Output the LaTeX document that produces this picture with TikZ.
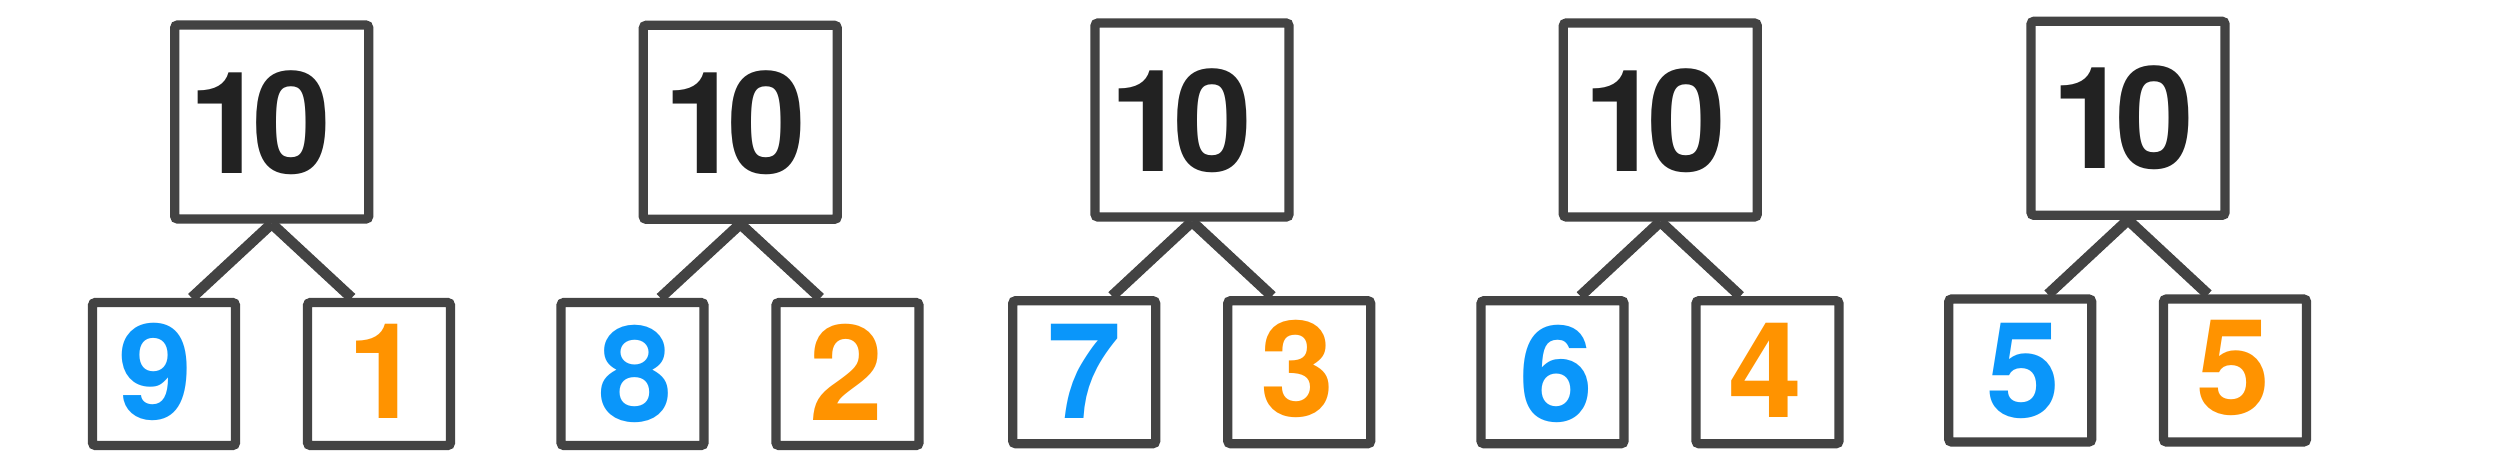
\documentclass[tikz,border=0pt]{standalone}
\usepackage{fontspec}
\setmainfont{TeX Gyre Heros}
\usetikzlibrary{calc,backgrounds}
\definecolor{edge}{HTML}{434343}
\definecolor{ink}{HTML}{222222}
\definecolor{bluedig}{HTML}{0A96FA}
\definecolor{orangedig}{HTML}{FF9300}
\tikzset{
  topbox/.style={draw=edge, line width=4.65pt, rounded corners=1.5pt, fill=white, minimum width=97pt, minimum height=97pt, inner sep=0pt},
  kidbox/.style={draw=edge, line width=4.65pt, rounded corners=1.5pt, fill=white, minimum width=71.5pt, minimum height=71.5pt, inner sep=0pt},
  toptext/.style={anchor=base, inner sep=0pt, text=ink, font=\fontsize{71pt}{71pt}\selectfont\bfseries},
  bluetext/.style={anchor=base, inner sep=0pt, text=bluedig, font=\fontsize{66.5pt}{66.5pt}\selectfont\bfseries},
  orangetext/.style={anchor=base, inner sep=0pt, text=orangedig, font=\fontsize{66.5pt}{66.5pt}\selectfont\bfseries},
  conn/.style={draw=edge, line width=5.3pt}
}
\begin{document}
\begin{tikzpicture}[x=0.5pt,y=-0.5pt]
% group 1
\node[topbox] (t1) at (271.7,122) {};
\node[kidbox] (l1) at (164,374) {};
\node[kidbox] (r1) at (379,374) {};
% group 2
\node[topbox] (t2) at (740.3,122.3) {};
\node[kidbox] (l2) at (632.5,374) {};
\node[kidbox] (r2) at (847.5,374) {};
% group 3
\node[topbox] (t3) at (1192,120) {};
\node[kidbox] (l3) at (1084.2,372.2) {};
\node[kidbox] (r3) at (1299.2,372.2) {};
% group 4
\node[topbox] (t4) at (1660.3,120) {};
\node[kidbox] (l4) at (1552.5,372.2) {};
\node[kidbox] (r4) at (1767.5,372.2) {};
% group 5
\node[topbox] (t5) at (2128,118.3) {};
\node[kidbox] (l5) at (2020.2,370.5) {};
\node[kidbox] (r5) at (2235,370.5) {};
% connectors (behind the boxes)
\begin{scope}[on background layer]
\path[use as bounding box, fill=white] (0,0) rectangle (2500,468);
\foreach \g in {1,...,5}{
  \draw[conn] (t\g.south) -- ([xshift=-40pt]t\g.south |- l\g.north);
  \draw[conn] (t\g.south) -- ([xshift=40pt]t\g.south |- r\g.north);
}
\end{scope}
% labels
\node[toptext] (n1) at (260.3,173.3) {1\kern-7.5pt 0};
\node[toptext] (n2) at (735.3,173.5) {1\kern-7.5pt 0};
\node[toptext] (n3) at (1181.3,171) {1\kern-7.5pt 0};
\node[toptext] (n4) at (1655.3,171) {1\kern-7.5pt 0};
\node[toptext] (n5) at (2122.8,168.5) {1\kern-7.5pt 0};
\node[bluetext] (a1) at (155.7,419) {9};
\node[orangetext] (b1) at (384,418.5) {1};
\node[bluetext] (a2) at (635.8,421) {8};
\node[orangetext] (b2) at (846.5,420) {2};
\node[bluetext] (a3) at (1084.7,418.3) {7};
\node[orangetext] (b3) at (1297.9,416.5) {3};
\node[bluetext] (a4) at (1556.6,421) {6};
\node[orangetext] (b4) at (1765.2,417.3) {4};
\node[bluetext] (a5) at (2023.4,417.5) {5};
\node[orangetext] (b5) at (2233.7,414.5) {5};
\end{tikzpicture}
\end{document}
